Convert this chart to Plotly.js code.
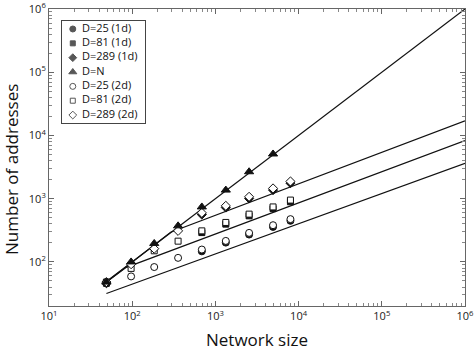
<!DOCTYPE html>
<html>
<head>
<meta charset="utf-8">
<script src="https://cdn.plot.ly/plotly-3.0.1.min.js"></script>
<style>html,body{margin:0;padding:0;background:#fff;}#chart{width:474px;height:351px;}</style>
</head>
<body>
<div id="chart"></div>
<script>
// ---- data ----
const netSize   = [49, 97, 184, 356, 687, 1334, 2541, 4930, 7980];
const netSizeDN = [49, 97, 184, 356, 687, 1334, 2541, 4930];
const netSize1d = [49, 687, 1334, 2541, 4930, 7980];

const addrDN     = [48, 100, 196, 372, 741, 1368, 2667, 5095];
const addr25_2d  = [48, 59, 83, 116, 157, 215, 288, 381, 475];
const addr81_2d  = [48, 79, 150, 213, 310, 421, 570, 741, 951];
const addr289_2d = [48, 92, 162, 310, 597, 771, 1071, 1455, 1874];
const addr25_1d  = [46, 147, 202, 271, 358, 447];
const addr81_1d  = [46, 291, 396, 536, 697, 894];
const addr289_1d = [46, 561, 725, 1007, 1368, 1762];

// reference curves
const curveDN_x  = [49, 1e6];
const curveDN_y  = [49, 1e6];
const curve289_x = [49, 290, 1e6];
const curve289_y = [48, 295, 17000];
const curve81_x  = [49, 85, 1e6];
const curve81_y  = [48, 82, 8280];
const curve25_x  = [49, 1e6];
const curve25_y  = [31.6, 3630];

// axis ticks
const xTickVals = [1e1, 1e2, 1e3, 1e4, 1e5, 1e6];
const xTickText = ['10<sup>1</sup>', '10<sup>2</sup>', '10<sup>3</sup>', '10<sup>4</sup>', '10<sup>5</sup>', '10<sup>6</sup>'];
const yTickVals = [1e2, 1e3, 1e4, 1e5, 1e6];
const yTickText = ['10<sup>2</sup>', '10<sup>3</sup>', '10<sup>4</sup>', '10<sup>5</sup>', '10<sup>6</sup>'];

const seriesNames = ['D=25 (1d)', 'D=81 (1d)', 'D=289 (1d)', 'D=N', 'D=25 (2d)', 'D=81 (2d)', 'D=289 (2d)'];
const seriesSymbols = ['circle', 'square', 'diamond', 'triangle-up', 'circle', 'square', 'diamond'];
const seriesFill = ['#111', '#111', '#111', '#111', '#fff', '#fff', '#fff'];
const seriesSizes = [7, 6, 7, 8, 7, 6, 7];
const legendPos = [0, 1, 2, 3, 4, 5, 6];

const FONT = 'Open Sans, Liberation Sans, sans-serif';
const lineStyle = {color: '#111', width: 1.2};

function curve(x, y) {
  return {x: x, y: y, mode: 'lines', line: lineStyle, showlegend: false, hoverinfo: 'skip'};
}
function pts(x, y, i) {
  return {x: x, y: y, mode: 'markers', name: seriesNames[i], showlegend: false,
    marker: {symbol: seriesSymbols[i], size: seriesSizes[i], color: seriesFill[i],
      line: {color: '#111', width: 1}}};
}

const traces = [
  curve(curveDN_x, curveDN_y),
  curve(curve289_x, curve289_y),
  curve(curve81_x, curve81_y),
  curve(curve25_x, curve25_y),
  pts(netSize1d, addr25_1d, 0),
  pts(netSize1d, addr81_1d, 1),
  pts(netSize1d, addr289_1d, 2),
  pts(netSize, addr25_2d, 4),
  pts(netSize, addr81_2d, 5),
  pts(netSize, addr289_2d, 6),
  pts(netSizeDN, addrDN, 3),
  // custom legend
  {x: legendPos.map(() => 0.13), y: legendPos, xaxis: 'x2', yaxis: 'y2', mode: 'markers',
   showlegend: false, hoverinfo: 'skip',
   marker: {symbol: seriesSymbols, size: seriesSizes.map(s => s - 1), color: seriesFill, line: {color: '#111', width: 1}}},
  {x: legendPos.map(() => 0.24), y: legendPos, xaxis: 'x2', yaxis: 'y2', mode: 'text',
   text: seriesNames, textposition: 'middle right', showlegend: false, hoverinfo: 'skip',
   textfont: {family: FONT, size: 11, color: '#111'}}
];

const axisCommon = {
  type: 'log', tickmode: 'array', ticklabeloverflow: 'allow',
  showline: true, linecolor: '#666', linewidth: 1, mirror: 'ticks',
  ticks: 'inside', ticklen: 5, tickcolor: '#666', tickwidth: 1,
  minor: {ticks: 'inside', ticklen: 3, tickcolor: '#888', dtick: 'D1', showgrid: false},
  showgrid: false, zeroline: false,
  tickfont: {family: FONT, size: 11, color: '#222'}
};

const layout = {
  width: 474, height: 351,
  margin: {l: 49, r: 9, t: 9, b: 45},
  paper_bgcolor: '#fff', plot_bgcolor: '#fff',
  showlegend: false,
  xaxis: Object.assign({}, axisCommon, {range: [1, 6], tickvals: xTickVals, ticktext: xTickText}),
  yaxis: Object.assign({}, axisCommon, {range: [1.303, 6], tickvals: yTickVals, ticktext: yTickText}),
  xaxis2: {domain: [0.03125, 0.2308], range: [0, 1], anchor: 'y2', showline: true, mirror: true,
    linecolor: '#444', linewidth: 1, showticklabels: false, ticks: '', showgrid: false, zeroline: false, fixedrange: true},
  yaxis2: {domain: [0.616, 0.9596], range: [6.558, -0.558], anchor: 'x2', showline: true, mirror: true,
    linecolor: '#444', linewidth: 1, showticklabels: false, ticks: '', showgrid: false, zeroline: false, fixedrange: true},
  annotations: [
    {text: 'Network size', xref: 'paper', yref: 'paper', x: 0.5, y: -0.112, yanchor: 'middle', xanchor: 'center',
     showarrow: false, font: {family: FONT, size: 17, color: '#111'}},
    {text: 'Number of addresses', xref: 'paper', yref: 'paper', x: -0.09, y: 0.46, xanchor: 'center', yanchor: 'middle',
     textangle: -90, showarrow: false, font: {family: FONT, size: 17, color: '#111'}}
  ]
};

Plotly.newPlot('chart', traces, layout, {staticPlot: true, displayModeBar: false});
</script>
</body>
</html>
